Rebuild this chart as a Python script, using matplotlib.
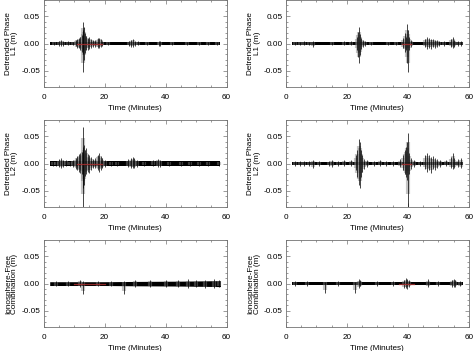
"""
Detrended phase L1 / L2 and ionosphere-free combination, two satellites
"""

import numpy as np
import matplotlib
matplotlib.use("Agg")
import matplotlib.pyplot as plt
from matplotlib.ticker import MultipleLocator

plt.rcParams['font.family'] = ['Liberation Sans', 'DejaVu Sans']

# ---- data (minutes, metres) ----
ylabels = ["Detrended Phase\nL1 (m)", "Detrended Phase\nL2 (m)",
           "Ionosphere-Free\nCombination (m)"]

# baseline band: knot times and half-widths
band_t_l1a = [2, 58];            band_a_l1a = [0.003, 0.003]
band_t_l1b = [2, 58];            band_a_l1b = [0.003, 0.003]
band_t_l2a = [2, 58];            band_a_l2a = [0.004, 0.004]
band_t_l2b = [2, 58];            band_a_l2b = [0.0035, 0.0035]
band_t_ifa = [2, 20, 30, 45, 58]; band_a_ifa = [0.0035, 0.0035, 0.004, 0.0045, 0.0055]
band_t_ifb = [2, 58];            band_a_ifb = [0.0032, 0.0032]

# bursts / spikes: time, upper, lower
sp_t_l1a = [3.5, 5.2, 5.8, 6.5, 8, 9.5, 10.5, 11, 11.5, 12, 12.5, 12.8, 13.0, 13.2, 13.5,
            14.0, 14.5, 15.0, 15.5, 16.2, 17.0, 17.8, 18.3, 18.8, 19.3, 21, 28, 28.7, 29.3,
            30, 31, 34, 37.8, 38.3, 42, 47, 51, 54, 57]
sp_hi_l1a = [.003, .005, .006, .004, .004, .003, .006, .008, .010, .012, .016, .025, .040, .030, .020,
             .014, .010, .012, .008, .006, .007, .010, .011, .008, .005, .003, .005, .007, .008,
             .005, .004, .003, .005, .004, .003, .003, .003, .003, .003]
sp_lo_l1a = [-.003, -.004, -.005, -.004, -.003, -.003, -.005, -.008, -.009, -.011, -.015, -.020, -.052, -.030, -.018,
             -.012, -.012, -.010, -.008, -.006, -.006, -.008, -.009, -.007, -.005, -.003, -.004, -.006, -.006,
             -.005, -.003, -.003, -.004, -.004, -.003, -.003, -.003, -.003, -.003]

sp_t_l1b = [3, 4.5, 6, 7.5, 9, 15, 19, 21.5, 23.5, 23.8, 24.1, 24.4, 24.8, 25.3, 26, 28, 33.5,
            36, 38.5, 39, 39.4, 39.8, 40.1, 40.5, 41, 45.8, 46.3, 46.8, 47.5, 48.2, 48.8, 49.5,
            50.2, 52, 54.3, 54.8, 55.3, 56.5, 57.3]
sp_hi_l1b = [.003, .003, .004, .003, .004, .003, .004, .004, .012, .022, .030, .018, .010, .006, .004, .003, .003,
             .003, .010, .020, .012, .035, .025, .012, .006, .008, .012, .010, .008, .009, .007, .006,
             .005, .004, .008, .012, .006, .004, .005]
sp_lo_l1b = [-.003, -.003, -.003, -.003, -.006, -.003, -.003, -.003, -.012, -.025, -.035, -.022, -.010, -.006, -.004, -.003, -.003,
             -.003, -.008, -.015, -.012, -.035, -.052, -.012, -.006, -.006, -.010, -.008, -.010, -.007, -.008, -.006,
             -.005, -.004, -.006, -.008, -.006, -.004, -.005]

sp_t_l2a = [3, 4, 5.2, 5.8, 6.5, 7.5, 8.5, 9.5, 10.5, 11, 11.5, 12, 12.5, 12.8, 13.0, 13.2, 13.6,
            14.0, 14.5, 15.0, 15.5, 16.2, 17.0, 17.8, 18.3, 18.8, 19.3, 20, 22, 24, 27.8, 28.5,
            29.2, 29.8, 30.5, 33, 36, 37.5, 38.2, 41, 45, 48, 51, 54, 57.5]
sp_hi_l2a = [.005, .005, .008, .010, .006, .006, .005, .006, .010, .014, .018, .020, .022, .030, .068, .035, .025,
             .028, .018, .015, .012, .008, .010, .016, .020, .014, .010, .006, .005, .005, .008, .010,
             .012, .010, .007, .005, .006, .009, .007, .005, .005, .005, .005, .005, .005]
sp_lo_l2a = [-.005, -.005, -.007, -.008, -.006, -.005, -.005, -.006, -.010, -.012, -.015, -.018, -.020, -.045, -.080, -.040, -.022,
             -.020, -.016, -.018, -.012, -.008, -.008, -.012, -.015, -.012, -.008, -.006, -.005, -.005, -.006, -.008,
             -.009, -.008, -.006, -.005, -.005, -.007, -.006, -.004, -.005, -.005, -.004, -.005, -.005]

sp_t_l2b = [3, 4.5, 6, 7.5, 9, 11, 14, 15, 17, 19, 21.5, 23, 23.5, 23.9, 24.2, 24.6, 25, 25.5,
            26.5, 29, 31, 33, 35, 37.5, 38.5, 39, 39.5, 39.8, 40.1, 40.5, 41, 42, 44, 45.8, 46.3,
            46.8, 47.5, 48.2, 48.8, 49.5, 50.5, 52.5, 54.2, 54.7, 55.2, 56.5, 57.3]
sp_hi_l2b = [.005, .005, .005, .005, .006, .005, .004, .006, .005, .006, .006, .015, .025, .045, .040, .025, .015, .008,
             .006, .005, .007, .005, .004, .008, .015, .025, .030, .040, .056, .020, .010, .006, .005, .015, .020,
             .015, .012, .013, .010, .008, .006, .006, .012, .020, .010, .008, .010]
sp_lo_l2b = [-.005, -.005, -.004, -.005, -.008, -.004, -.004, -.006, -.005, -.005, -.005, -.012, -.025, -.040, -.045, -.025, -.015, -.010,
             -.006, -.005, -.005, -.005, -.004, -.006, -.012, -.020, -.025, -.030, -.080, -.020, -.010, -.006, -.005, -.010, -.015,
             -.012, -.018, -.010, -.012, -.008, -.006, -.005, -.008, -.010, -.008, -.006, -.008]

sp_t_ifa = [4, 8, 12, 13, 18, 22, 26.2, 30, 35, 40, 44, 47.5, 50, 53, 56, 57.5]
sp_hi_ifa = [.005, .005, .006, .004, .005, .005, .004, .006, .006, .006, .006, .008, .007, .007, .008, .007]
sp_lo_ifa = [-.005, -.005, -.006, -.019, -.005, -.005, -.019, -.006, -.006, -.007, -.006, -.008, -.007, -.008, -.008, -.007]

sp_t_ifb = [3, 7, 13, 17, 22.8, 24, 24.4, 30, 35, 38.8, 39.3, 39.8, 40.4, 46.5, 50, 54.5, 55, 55.5, 57]
sp_hi_ifb = [.004, .004, .003, .004, .003, .008, .006, .004, .004, .007, .010, .008, .006, .008, .004, .006, .009, .006, .005]
sp_lo_ifb = [-.004, -.004, -.018, -.004, -.018, -.008, -.005, -.004, -.004, -.008, -.008, -.010, -.006, -.006, -.004, -.006, -.007, -.006, -.005]

# red mean trace segment (start, end)
red_l1a = [11, 19]
red_l1b = [38, 41]
red_l2a = [11, 19]
red_l2b = [38, 41]
red_ifa = [10, 20]
red_ifb = [37, 42]

panels = [
    [(band_t_l1a, band_a_l1a, sp_t_l1a, sp_hi_l1a, sp_lo_l1a, red_l1a),
     (band_t_l1b, band_a_l1b, sp_t_l1b, sp_hi_l1b, sp_lo_l1b, red_l1b)],
    [(band_t_l2a, band_a_l2a, sp_t_l2a, sp_hi_l2a, sp_lo_l2a, red_l2a),
     (band_t_l2b, band_a_l2b, sp_t_l2b, sp_hi_l2b, sp_lo_l2b, red_l2b)],
    [(band_t_ifa, band_a_ifa, sp_t_ifa, sp_hi_ifa, sp_lo_ifa, red_ifa),
     (band_t_ifb, band_a_ifb, sp_t_ifb, sp_hi_ifb, sp_lo_ifb, red_ifb)],
]

fig = plt.figure(figsize=(4.74, 3.51), dpi=100)

lefts = [0.092, 0.603]
bottoms = [0.752, 0.410, 0.068]
w, h = 0.386, 0.248
fs = 5.9
frame = '0.45'

for r in range(3):
    for c in range(2):
        bt, ba, st, shi, slo, red = panels[r][c]
        ax = fig.add_axes([lefts[c], bottoms[r], w, h])
        ba = np.array(ba)
        shi = np.array(shi)
        slo = np.array(slo)
        # grey haze around each burst
        ax.vlines(st, slo * 0.7, shi * 0.7, color='0.5', lw=3.0, alpha=0.45)
        ax.vlines(st, slo, shi, color='black', lw=0.6, alpha=0.85)
        ax.fill_between(bt, -ba, ba, color='black', lw=0)
        ax.plot(red, [0, 0], color='#b03030', lw=0.9, alpha=0.8)

        ax.set_xlim(0, 60)
        ax.set_ylim(-0.08, 0.08)
        ax.set_xticks([0, 20, 40, 60])
        ax.set_yticks([-0.05, 0.0, 0.05])
        ax.set_yticklabels(['-0.05', '0.00', '0.05'])
        ax.xaxis.set_minor_locator(MultipleLocator(5))
        ax.yaxis.set_minor_locator(MultipleLocator(0.01))
        ax.tick_params(which='both', direction='in', top=True, right=True,
                       color=frame, width=0.5, labelsize=fs)
        ax.tick_params(axis='x', pad=5)
        ax.tick_params(axis='y', pad=2.5)
        ax.tick_params(which='major', length=3)
        ax.tick_params(which='minor', length=1.5)
        for s in ax.spines.values():
            s.set_color(frame)
            s.set_linewidth(0.6)
        ax.set_xlabel("Time (Minutes)", fontsize=fs, labelpad=3)
        ax.set_ylabel(ylabels[r], fontsize=fs, labelpad=2, linespacing=0.9)

fig.savefig("out.png", dpi=100)
